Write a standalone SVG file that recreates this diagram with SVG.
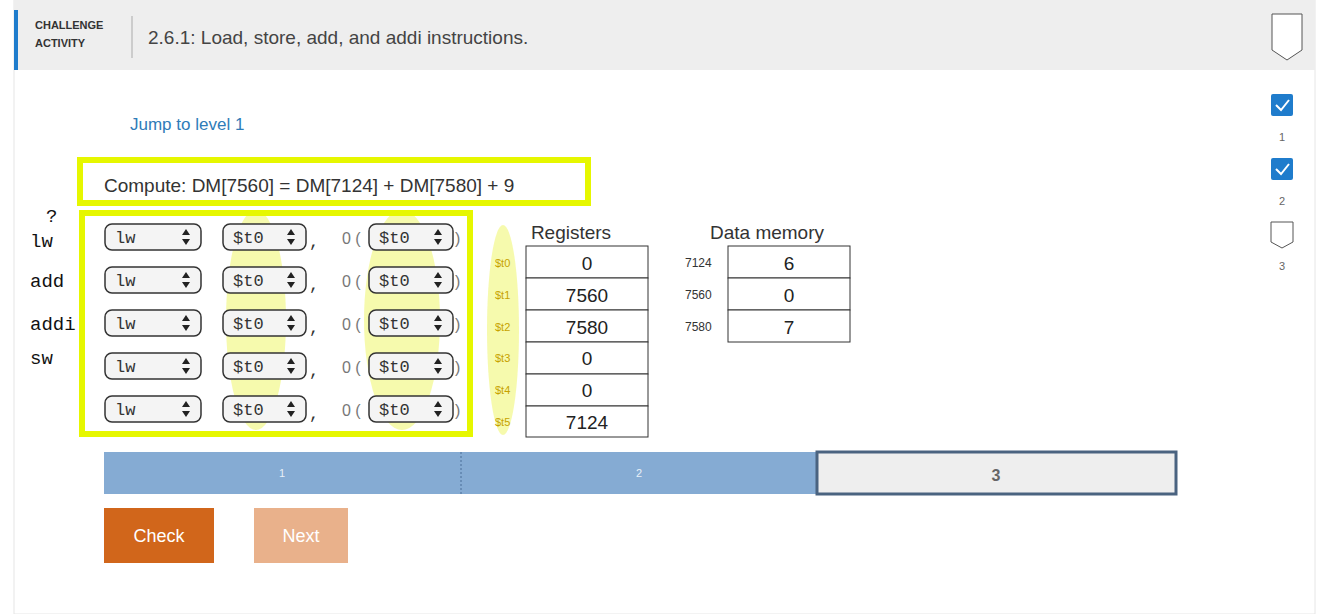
<svg xmlns="http://www.w3.org/2000/svg" width="1330" height="614" viewBox="0 0 1330 614">
<style>
.s{font-family:"Liberation Sans",Arial,sans-serif}
.m{font-family:"Liberation Mono","Courier New",monospace}
.sel{fill:#f4f4f4;stroke:#333;stroke-width:1.5}
.yl{fill:none;stroke:#e6f700;stroke-width:6}
.cell{fill:#fff;stroke:#333;stroke-width:1}
.blob{fill:#eef56a;opacity:0.55}
.lbl{font-family:"Liberation Sans",Arial,sans-serif;font-size:11px;fill:#c7a200}
</style>
<rect width="1330" height="614" fill="#fff"/>
<rect x="14" y="0" width="1301" height="614" fill="#fff" stroke="#e6e6e6"/>
<g id="header">
<rect x="14" y="0" width="1301" height="70" fill="#eeeeee"/>
<rect x="14" y="10" width="4" height="60" fill="#1f7ccc"/>
<text x="35" y="29" class="s" font-size="11" font-weight="bold" fill="#333">CHALLENGE</text>
<text x="35" y="47" class="s" font-size="11" font-weight="bold" fill="#333">ACTIVITY</text>
<line x1="132" y1="16" x2="132" y2="58" stroke="#aaa"/>
<text x="148" y="44" class="s" font-size="19" fill="#444">2.6.1: Load, store, add, and addi instructions.</text>
<path d="M1272 14 H1302 V50 L1287 60 L1272 50 Z" fill="#fff" stroke="#555" stroke-width="1"/>
</g>
<g id="levels">
<rect x="1271" y="94" width="22" height="22" rx="2" fill="#1f7ccc"/>
<path d="M1276 105 L1281 110 L1289 100" fill="none" stroke="#fff" stroke-width="2"/>
<text x="1282" y="141" class="s" font-size="11" fill="#666" text-anchor="middle">1</text>
<rect x="1271" y="158" width="22" height="22" rx="2" fill="#1f7ccc"/>
<path d="M1276 169 L1281 174 L1289 164" fill="none" stroke="#fff" stroke-width="2"/>
<text x="1282" y="205" class="s" font-size="11" fill="#666" text-anchor="middle">2</text>
<path d="M1271 222 H1293 V242 L1282 248 L1271 242 Z" fill="#fff" stroke="#555"/>
<text x="1282" y="270" class="s" font-size="11" fill="#666" text-anchor="middle">3</text>
</g>
<text x="130" y="130" class="s" font-size="17" fill="#2f7cb8">Jump to level 1</text>
<g id="compute">
<rect x="80" y="160" width="508" height="43" class="yl"/>
<text x="104" y="192" class="s" font-size="19" fill="#333">Compute: DM[7560] = DM[7124] + DM[7580] + 9</text>
</g>
<g id="hints" class="m" font-size="19" fill="#111">
<text x="46" y="222">?</text>
<text x="30" y="247">lw</text>
<text x="30" y="287">add</text>
<text x="30" y="330">addi</text>
<text x="30" y="364">sw</text>
</g>
<g id="blobs">
<ellipse cx="256" cy="320" rx="30" ry="110" class="blob"/>
<ellipse cx="402" cy="320" rx="38" ry="110" class="blob"/>
<ellipse cx="503" cy="330" rx="16" ry="105" class="blob"/>
</g>
<g id="instructions">
<rect x="82" y="213" width="388" height="221" class="yl"/>
<g id="rows" class="m" font-size="17" fill="#333">
<g transform="translate(0,0)">
<rect x="105" y="224" width="96" height="26" rx="7" class="sel"/><text x="115" y="243">lw</text><path d="M182 235 l4 -6 l4 6 Z M182 239 l4 6 l4 -6 Z" fill="#222"/>
<rect x="223" y="224" width="83" height="26" rx="7" class="sel"/><text x="233" y="243">$t0</text><path d="M287 235 l4 -6 l4 6 Z M287 239 l4 6 l4 -6 Z" fill="#222"/><text x="309" y="247">,</text>
<text x="342" y="244" class="s" font-size="16" fill="#777">0 (</text>
<rect x="369" y="224" width="84" height="26" rx="7" class="sel"/><text x="379" y="243">$t0</text><path d="M434 235 l4 -6 l4 6 Z M434 239 l4 6 l4 -6 Z" fill="#222"/><text x="455" y="244" class="s" font-size="16" fill="#777">)</text>
</g>
<g transform="translate(0,43)">
<rect x="105" y="224" width="96" height="26" rx="7" class="sel"/><text x="115" y="243">lw</text><path d="M182 235 l4 -6 l4 6 Z M182 239 l4 6 l4 -6 Z" fill="#222"/>
<rect x="223" y="224" width="83" height="26" rx="7" class="sel"/><text x="233" y="243">$t0</text><path d="M287 235 l4 -6 l4 6 Z M287 239 l4 6 l4 -6 Z" fill="#222"/><text x="309" y="247">,</text>
<text x="342" y="244" class="s" font-size="16" fill="#777">0 (</text>
<rect x="369" y="224" width="84" height="26" rx="7" class="sel"/><text x="379" y="243">$t0</text><path d="M434 235 l4 -6 l4 6 Z M434 239 l4 6 l4 -6 Z" fill="#222"/><text x="455" y="244" class="s" font-size="16" fill="#777">)</text>
</g>
<g transform="translate(0,86)">
<rect x="105" y="224" width="96" height="26" rx="7" class="sel"/><text x="115" y="243">lw</text><path d="M182 235 l4 -6 l4 6 Z M182 239 l4 6 l4 -6 Z" fill="#222"/>
<rect x="223" y="224" width="83" height="26" rx="7" class="sel"/><text x="233" y="243">$t0</text><path d="M287 235 l4 -6 l4 6 Z M287 239 l4 6 l4 -6 Z" fill="#222"/><text x="309" y="247">,</text>
<text x="342" y="244" class="s" font-size="16" fill="#777">0 (</text>
<rect x="369" y="224" width="84" height="26" rx="7" class="sel"/><text x="379" y="243">$t0</text><path d="M434 235 l4 -6 l4 6 Z M434 239 l4 6 l4 -6 Z" fill="#222"/><text x="455" y="244" class="s" font-size="16" fill="#777">)</text>
</g>
<g transform="translate(0,129)">
<rect x="105" y="224" width="96" height="26" rx="7" class="sel"/><text x="115" y="243">lw</text><path d="M182 235 l4 -6 l4 6 Z M182 239 l4 6 l4 -6 Z" fill="#222"/>
<rect x="223" y="224" width="83" height="26" rx="7" class="sel"/><text x="233" y="243">$t0</text><path d="M287 235 l4 -6 l4 6 Z M287 239 l4 6 l4 -6 Z" fill="#222"/><text x="309" y="247">,</text>
<text x="342" y="244" class="s" font-size="16" fill="#777">0 (</text>
<rect x="369" y="224" width="84" height="26" rx="7" class="sel"/><text x="379" y="243">$t0</text><path d="M434 235 l4 -6 l4 6 Z M434 239 l4 6 l4 -6 Z" fill="#222"/><text x="455" y="244" class="s" font-size="16" fill="#777">)</text>
</g>
<g transform="translate(0,172)">
<rect x="105" y="224" width="96" height="26" rx="7" class="sel"/><text x="115" y="243">lw</text><path d="M182 235 l4 -6 l4 6 Z M182 239 l4 6 l4 -6 Z" fill="#222"/>
<rect x="223" y="224" width="83" height="26" rx="7" class="sel"/><text x="233" y="243">$t0</text><path d="M287 235 l4 -6 l4 6 Z M287 239 l4 6 l4 -6 Z" fill="#222"/><text x="309" y="247">,</text>
<text x="342" y="244" class="s" font-size="16" fill="#777">0 (</text>
<rect x="369" y="224" width="84" height="26" rx="7" class="sel"/><text x="379" y="243">$t0</text><path d="M434 235 l4 -6 l4 6 Z M434 239 l4 6 l4 -6 Z" fill="#222"/><text x="455" y="244" class="s" font-size="16" fill="#777">)</text>
</g>
</g>
</g>
<g id="registers">
<text x="571" y="239" class="s" font-size="19" fill="#333" text-anchor="middle">Registers</text>
<g class="s" font-size="19" fill="#222" text-anchor="middle">
<rect x="526" y="246" width="122" height="32" class="cell"/><text x="587" y="270">0</text>
<rect x="526" y="278" width="122" height="32" class="cell"/><text x="587" y="302">7560</text>
<rect x="526" y="310" width="122" height="32" class="cell"/><text x="587" y="334">7580</text>
<rect x="526" y="342" width="122" height="32" class="cell"/><text x="587" y="365">0</text>
<rect x="526" y="374" width="122" height="32" class="cell"/><text x="587" y="397">0</text>
<rect x="526" y="406" width="122" height="31" class="cell"/><text x="587" y="429">7124</text>
</g>
<text x="495" y="267" class="lbl">$t0</text>
<text x="495" y="299" class="lbl">$t1</text>
<text x="495" y="331" class="lbl">$t2</text>
<text x="495" y="362" class="lbl">$t3</text>
<text x="495" y="394" class="lbl">$t4</text>
<text x="495" y="426" class="lbl">$t5</text>
</g>
<g id="memory">
<text x="767" y="239" class="s" font-size="19" fill="#333" text-anchor="middle">Data memory</text>
<g class="s" font-size="19" fill="#222" text-anchor="middle">
<rect x="728" y="246" width="122" height="32" class="cell"/><text x="789" y="270">6</text>
<rect x="728" y="278" width="122" height="32" class="cell"/><text x="789" y="302">0</text>
<rect x="728" y="310" width="122" height="32" class="cell"/><text x="789" y="334">7</text>
</g>
<g class="s" font-size="12" fill="#333">
<text x="685" y="267">7124</text><text x="685" y="299">7560</text><text x="685" y="331">7580</text>
</g>
</g>
<g id="progress">
<rect x="104" y="452" width="713" height="42" fill="#85abd3"/>
<line x1="461" y1="452" x2="461" y2="494" stroke="#4a6f98" stroke-dasharray="2,2"/>
<text x="282" y="477" class="s" font-size="11" fill="#e8f0f8" text-anchor="middle">1</text>
<text x="639" y="477" class="s" font-size="11" fill="#e8f0f8" text-anchor="middle">2</text>
<rect x="817" y="452" width="359" height="42" fill="#eeeeee" stroke="#4a6380" stroke-width="3"/>
<text x="996" y="481" class="s" font-size="16" font-weight="bold" fill="#666" text-anchor="middle">3</text>
</g>
<g id="buttons">
<rect x="104" y="508" width="110" height="55" fill="#d1661b"/>
<text x="159" y="542" class="s" font-size="18" fill="#fff" text-anchor="middle">Check</text>
<rect x="254" y="508" width="94" height="55" fill="#e9b18b"/>
<text x="301" y="542" class="s" font-size="18" fill="#fff" text-anchor="middle">Next</text>
</g>
</svg>
